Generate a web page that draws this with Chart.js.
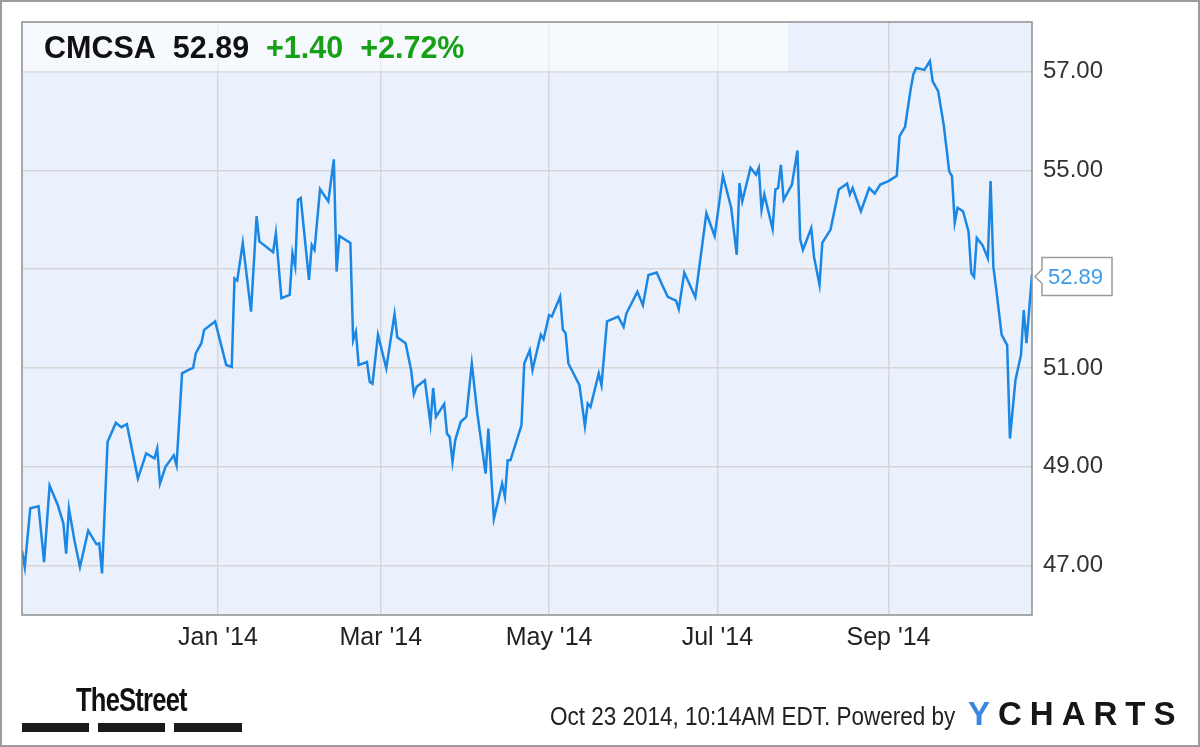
<!DOCTYPE html>
<html lang="en">
<head>
<meta charset="UTF-8" />
<title>CMCSA</title>
<script src="https://cdn.jsdelivr.net/npm/chart.js"></script>
<style>
  html, body { margin: 0; padding: 0; background: #fff; }
  #wrap { position: relative; width: 1200px; height: 747px; overflow: hidden; font-family: "Liberation Sans", Arial, sans-serif; }
  #frame { position: absolute; left: 0; top: 0; width: 1196px; height: 743px; border: 2px solid #9c9c9c; pointer-events: none; }
  canvas { position: absolute; left: 0; top: 0; }
  .head { position: absolute; left: 44px; top: 30px; font-size: 30.5px; font-weight: bold; white-space: nowrap; }
  .head .sym { color: #111; }
  .head .up { color: #17a017; }
  .street { position: absolute; left: 76px; top: 680px; font-size: 34px; font-weight: bold; letter-spacing: -1px;
            transform: scaleX(0.75); transform-origin: left top; color: #111; }
  .bar { position: absolute; top: 723px; height: 9px; background: #1b1b1b; }
  .stamp { position: absolute; left: 550px; top: 702px; font-size: 25px; color: #222; white-space: nowrap;
           transform: scaleX(0.9); transform-origin: left top; }
  .ych { position: absolute; left: 968px; top: 695px; font-size: 33px; font-weight: bold; color: #161616; letter-spacing: 8px; white-space: nowrap; }
  .ych b { color: #3b87e0; }
</style>
</head>
<body>
<div id="wrap">
  <canvas id="c" width="1200" height="747"></canvas>
  <div class="head"><span class="sym">CMCSA&nbsp; 52.89</span>&nbsp; <span class="up">+1.40&nbsp; +2.72%</span></div>
  <div class="street">TheStreet</div>
  <div class="bar" style="left:22px;width:67px"></div>
  <div class="bar" style="left:98px;width:67px"></div>
  <div class="bar" style="left:174px;width:68px"></div>
  <div class="stamp">Oct 23 2014, 10:14AM EDT. Powered by</div>
  <div class="ych"><b>Y</b>CHARTS</div>
  <div id="frame"></div>
</div>
<script>
// days since 2013-10-22
var days = [0,1,3,6,8,10,13,15,16,17,19,21,24,27,28,29,31,34,36,38,42,45,48,49,50,52,55,56,
  58,60,62,63,65,66,70,74,76,77,78,80,83,85,86,91,92,94,97,98,99,100,101,104,105,106,108,111,113,114,115,
  119,120,121,122,125,126,127,129,132,135,136,139,141,142,143,146,148,149,150,153,154,155,156,157,159,161,
  163,165,168,169,171,174,175,176,177,181,182,184,185,188,189,191,192,195,196,197,198,202,204,205,206,209,
  210,212,216,218,219,223,225,227,230,232,234,237,238,240,244,248,251,254,257,259,260,261,264,266,267,268,
  269,272,273,274,275,276,279,281,282,283,286,287,289,290,293,296,299,300,301,304,307,309,311,314,317,318,
  320,322,323,324,327,329,330,332,334,336,337,338,339,341,343,344,345,346,348,350,351,352,353,355,357,358,
  360,362,363,364,366];
var prices = [47.30,46.97,48.16,48.20,47.07,48.62,48.22,47.85,47.24,48.16,47.51,46.97,47.71,47.43,47.45,46.84,
  49.50,49.89,49.80,49.86,48.76,49.27,49.17,49.37,48.66,49.00,49.23,49.03,
  50.89,50.95,51.00,51.30,51.50,51.77,51.94,51.06,51.02,52.81,52.77,53.53,52.14,54.07,53.56,53.34,53.73,52.41,
  52.48,53.32,53.05,54.40,54.44,52.78,53.49,53.39,54.62,54.37,55.22,52.95,53.67,
  53.53,51.56,51.73,51.06,51.12,50.72,50.68,51.67,50.99,52.09,51.62,51.50,50.96,50.47,50.62,50.75,49.87,50.59,
  50.01,50.27,49.67,49.60,49.10,49.54,49.91,50.01,
  51.09,50.08,48.86,49.77,47.95,48.66,48.39,49.13,49.13,49.84,51.09,51.36,50.96,51.67,51.58,52.07,52.04,52.44,
  51.77,51.70,51.09,50.65,49.82,50.28,50.21,50.89,
  50.65,51.94,52.04,51.83,52.10,52.54,52.27,52.88,52.93,52.68,52.44,52.36,52.19,52.93,52.43,54.13,53.67,54.89,
  54.24,53.29,54.74,54.37,55.05,54.91,55.05,54.20,
  54.51,53.81,54.61,54.64,55.11,54.40,54.71,55.40,53.60,53.39,53.83,53.25,52.68,53.53,53.80,54.61,54.73,54.51,
  54.64,54.17,54.64,54.53,54.71,54.78,54.89,55.69,
  55.88,56.63,56.94,57.07,57.03,57.21,56.80,56.60,55.92,54.98,54.88,53.94,54.24,54.17,53.76,52.92,52.84,53.63,
  53.49,53.22,54.78,53.05,52.61,51.67,51.46,49.57,
  50.75,51.26,52.17,51.50,52.89];
var monthTicks = [71, 130, 191, 252, 314];
var monthLabels = ["Jan '14", "Mar '14", "May '14", "Jul '14", "Sep '14"];
var priceTicks = [47, 49, 51, 53, 55, 57];
var lastPrice = 52.89;

var points = days.map(function (d, i) { return { x: d, y: prices[i] }; });

var plotDeco = {
  id: 'plotDeco',
  beforeDraw: function (chart) {
    var a = chart.chartArea, ctx = chart.ctx;
    ctx.save();
    ctx.fillStyle = '#eaf1fd';
    ctx.fillRect(a.left, a.top, a.right - a.left, a.bottom - a.top);
    ctx.restore();
  },
  beforeDatasetsDraw: function (chart) {
    var a = chart.chartArea, ctx = chart.ctx;
    var y57 = chart.scales.y.getPixelForValue(57);
    ctx.save();
    ctx.fillStyle = 'rgba(255,255,255,0.55)';
    ctx.fillRect(a.left, a.top, 788 - a.left, y57 - a.top);
    ctx.restore();
  },
  afterDatasetsDraw: function (chart) {
    var a = chart.chartArea, ctx = chart.ctx;
    ctx.save();
    ctx.strokeStyle = '#8e8e8e';
    ctx.lineWidth = 1.5;
    ctx.strokeRect(a.left, a.top, a.right - a.left, a.bottom - a.top);
    // last price callout
    var y = chart.scales.y.getPixelForValue(lastPrice) + 2;
    var x0 = a.right + 3, bx = a.right + 10, bw = 70, bh = 38;
    ctx.beginPath();
    ctx.moveTo(x0, y);
    ctx.lineTo(bx, y - 7);
    ctx.lineTo(bx, y - bh / 2);
    ctx.lineTo(bx + bw, y - bh / 2);
    ctx.lineTo(bx + bw, y + bh / 2);
    ctx.lineTo(bx, y + bh / 2);
    ctx.lineTo(bx, y + 7);
    ctx.closePath();
    ctx.fillStyle = '#fff';
    ctx.fill();
    ctx.strokeStyle = '#9a9a9a';
    ctx.lineWidth = 1.5;
    ctx.stroke();
    ctx.fillStyle = '#3c9bec';
    ctx.font = '22px "Liberation Sans", Arial, sans-serif';
    ctx.textBaseline = 'middle';
    ctx.textAlign = 'left';
    ctx.fillText(lastPrice.toFixed(2), bx + 6, y + 1);
    ctx.restore();
  }
};

new Chart(document.getElementById('c'), {
  type: 'line',
  data: {
    datasets: [{
      data: points,
      borderColor: '#1b87e5',
      borderWidth: 2.5,
      pointRadius: 0,
      tension: 0,
      fill: false
    }]
  },
  options: {
    responsive: false,
    animation: false,
    layout: { padding: { left: 22, top: 22, right: 0, bottom: 0 } },
    plugins: { legend: { display: false }, tooltip: { enabled: false } },
    scales: {
      x: {
        type: 'linear',
        min: 0,
        max: 366,
        afterBuildTicks: function (s) { s.ticks = monthTicks.map(function (v) { return { value: v }; }); },
        afterFit: function (s) { s.height = 132; s.paddingLeft = 0; s.paddingRight = 0; },
        ticks: {
          callback: function (v, i) { return monthLabels[i]; },
          color: '#222',
          font: { family: '"Liberation Sans", Arial, sans-serif', size: 25 },
          padding: 8,
          maxRotation: 0,
          autoSkip: false
        },
        grid: { color: '#d6d6d6', lineWidth: 1.5, drawTicks: false },
        border: { display: false }
      },
      y: {
        position: 'right',
        min: 46,
        max: 58,
        afterBuildTicks: function (s) { s.ticks = priceTicks.map(function (v) { return { value: v }; }); },
        afterFit: function (s) { s.width = 168; s.paddingTop = 0; s.paddingBottom = 0; },
        ticks: {
          callback: function (v) { return Math.abs(v - lastPrice) < 0.5 ? '' : v.toFixed(2); },
          color: '#333',
          font: { family: '"Liberation Sans", Arial, sans-serif', size: 24 },
          padding: 11
        },
        grid: { color: '#d6d6d6', lineWidth: 1.5, drawTicks: false },
        border: { display: false }
      }
    }
  },
  plugins: [plotDeco]
});
</script>
</body>
</html>
